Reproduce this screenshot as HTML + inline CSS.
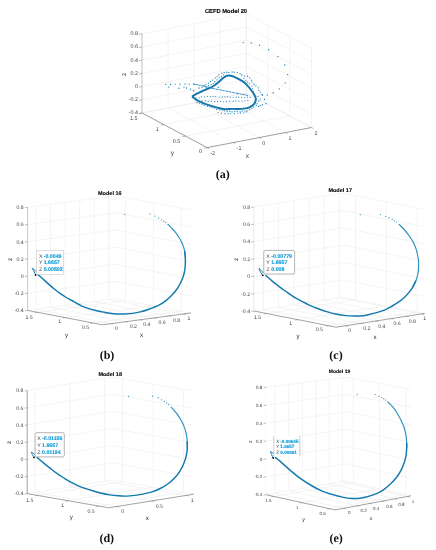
<!DOCTYPE html>
<html><head><meta charset="utf-8"><style>
html,body{margin:0;padding:0;background:#fff;}
svg{display:block;}
.g{stroke:#e9e9e9;stroke-width:0.5;}
.axb{stroke:#777;stroke-width:0.68;}
.axz{stroke:#9a9a9a;stroke-width:0.55;}
.axzc{stroke:#d8d8d8;stroke-width:0.6;}
.axzd{stroke:#777;stroke-width:0.7;}
.axze{stroke:#f0f0f0;stroke-width:0.5;}
.tk{stroke:#7a7a7a;stroke-width:0.5;}
text{font-family:"Liberation Sans",Arial,sans-serif;text-rendering:geometricPrecision;}
.tl{font-size:5.2px;fill:#444;}
.al{fill:#333;}
.tt{font-weight:bold;fill:#000;stroke:#000;stroke-width:0.1;}
.sl{font-family:"Liberation Serif","Times New Roman",serif;font-weight:bold;font-size:12px;fill:#111;}
.cv{fill:none;stroke:#1479ad;stroke-width:1.45;stroke-linecap:round;stroke-linejoin:round;}
.cvh{fill:none;stroke:#1479ad;stroke-width:1.0;stroke-linecap:round;stroke-linejoin:round;}
.cv2{fill:none;stroke:#2a90c0;stroke-width:1.15;stroke-linecap:round;stroke-linejoin:round;}
.dt{fill:#2f92c2;}
.dta{fill:#1e86bb;}
.cva{fill:none;stroke:#1675ad;stroke-width:1.95;stroke-linejoin:round;}
.mk{fill:#111;}
.dtb1{fill:#fff;fill-opacity:0.92;stroke:#bdbdbd;stroke-width:0.5;}
.dtb2{fill:#fff;fill-opacity:0.95;stroke:#9c9c9c;stroke-width:0.75;}
.dtb3{fill:#fff;fill-opacity:0.92;stroke:none;}
.dts{stroke:#a8a8a8;stroke-width:0.6;}
.dl{fill:#4a4a4a;}
.dv{fill:#0b9bd9;stroke:#0b9bd9;stroke-width:0.12;font-weight:bold;}
</style></head>
<body><svg width="436" height="550" viewBox="0 0 436 550">
<line x1="142" y1="113" x2="142" y2="33.8" class="g"/>
<line x1="207.2" y1="147.6" x2="142" y2="113" class="g"/>
<line x1="168.07" y1="107.97" x2="168.07" y2="28.77" class="g"/>
<line x1="233.27" y1="142.57" x2="168.07" y2="107.97" class="g"/>
<line x1="194.15" y1="102.95" x2="194.15" y2="23.75" class="g"/>
<line x1="259.35" y1="137.55" x2="194.15" y2="102.95" class="g"/>
<line x1="220.23" y1="97.93" x2="220.23" y2="18.73" class="g"/>
<line x1="285.43" y1="132.53" x2="220.23" y2="97.93" class="g"/>
<line x1="246.3" y1="92.9" x2="246.3" y2="13.7" class="g"/>
<line x1="311.5" y1="127.5" x2="246.3" y2="92.9" class="g"/>
<line x1="311.5" y1="127.5" x2="311.5" y2="48.3" class="g"/>
<line x1="207.2" y1="147.6" x2="311.5" y2="127.5" class="g"/>
<line x1="289.77" y1="115.97" x2="289.77" y2="36.77" class="g"/>
<line x1="185.47" y1="136.07" x2="289.77" y2="115.97" class="g"/>
<line x1="268.03" y1="104.43" x2="268.03" y2="25.23" class="g"/>
<line x1="163.73" y1="124.53" x2="268.03" y2="104.43" class="g"/>
<line x1="246.3" y1="92.9" x2="246.3" y2="13.7" class="g"/>
<line x1="142" y1="113" x2="246.3" y2="92.9" class="g"/>
<line x1="142" y1="113" x2="246.3" y2="92.9" class="g"/>
<line x1="246.3" y1="92.9" x2="311.5" y2="127.5" class="g"/>
<line x1="142" y1="99.8" x2="246.3" y2="79.7" class="g"/>
<line x1="246.3" y1="79.7" x2="311.5" y2="114.3" class="g"/>
<line x1="142" y1="86.6" x2="246.3" y2="66.5" class="g"/>
<line x1="246.3" y1="66.5" x2="311.5" y2="101.1" class="g"/>
<line x1="142" y1="73.4" x2="246.3" y2="53.3" class="g"/>
<line x1="246.3" y1="53.3" x2="311.5" y2="87.9" class="g"/>
<line x1="142" y1="60.2" x2="246.3" y2="40.1" class="g"/>
<line x1="246.3" y1="40.1" x2="311.5" y2="74.7" class="g"/>
<line x1="142" y1="47" x2="246.3" y2="26.9" class="g"/>
<line x1="246.3" y1="26.9" x2="311.5" y2="61.5" class="g"/>
<line x1="142" y1="33.8" x2="246.3" y2="13.7" class="g"/>
<line x1="246.3" y1="13.7" x2="311.5" y2="48.3" class="g"/>
<line x1="207.2" y1="147.6" x2="311.5" y2="127.5" class="axb"/>
<line x1="207.2" y1="147.6" x2="142" y2="113" class="axb"/>
<line x1="142" y1="113" x2="142" y2="33.8" class="axz"/>
<line x1="207.2" y1="147.6" x2="209.16" y2="148.64" class="tk"/>
<line x1="233.27" y1="142.57" x2="235.23" y2="143.61" class="tk"/>
<line x1="259.35" y1="137.55" x2="261.31" y2="138.59" class="tk"/>
<line x1="285.43" y1="132.53" x2="287.38" y2="133.56" class="tk"/>
<line x1="311.5" y1="127.5" x2="313.46" y2="128.54" class="tk"/>
<line x1="207.2" y1="147.6" x2="204.07" y2="148.2" class="tk"/>
<line x1="185.47" y1="136.07" x2="182.34" y2="136.67" class="tk"/>
<line x1="163.73" y1="124.53" x2="160.6" y2="125.14" class="tk"/>
<line x1="142" y1="113" x2="138.87" y2="113.6" class="tk"/>
<line x1="142" y1="113" x2="138.87" y2="113.6" class="tk"/>
<line x1="142" y1="99.8" x2="138.87" y2="100.4" class="tk"/>
<line x1="142" y1="86.6" x2="138.87" y2="87.2" class="tk"/>
<line x1="142" y1="73.4" x2="138.87" y2="74" class="tk"/>
<line x1="142" y1="60.2" x2="138.87" y2="60.8" class="tk"/>
<line x1="142" y1="47" x2="138.87" y2="47.6" class="tk"/>
<line x1="142" y1="33.8" x2="138.87" y2="34.4" class="tk"/>
<text x="212.7" y="155.24" class="tl" text-anchor="middle" style="font-size:5.4px">-2</text>
<text x="239" y="149.94" class="tl" text-anchor="middle" style="font-size:5.4px">-1</text>
<text x="263.8" y="144.74" class="tl" text-anchor="middle" style="font-size:5.4px">0</text>
<text x="290" y="139.54" class="tl" text-anchor="middle" style="font-size:5.4px">1</text>
<text x="316" y="134.64" class="tl" text-anchor="middle" style="font-size:5.4px">2</text>
<text x="133.8" y="120.44" class="tl" text-anchor="middle" style="font-size:5.4px">1.5</text>
<text x="157.2" y="131.14" class="tl" text-anchor="middle" style="font-size:5.4px">1</text>
<text x="176.5" y="142.54" class="tl" text-anchor="middle" style="font-size:5.4px">0.5</text>
<text x="200.4" y="153.14" class="tl" text-anchor="middle" style="font-size:5.4px">0</text>
<text x="137.9" y="114.46" class="tl" text-anchor="end" style="font-size:5.4px">-0.4</text>
<text x="137.9" y="101.26" class="tl" text-anchor="end" style="font-size:5.4px">-0.2</text>
<text x="137.9" y="88.06" class="tl" text-anchor="end" style="font-size:5.4px">0</text>
<text x="137.9" y="74.86" class="tl" text-anchor="end" style="font-size:5.4px">0.2</text>
<text x="137.9" y="61.66" class="tl" text-anchor="end" style="font-size:5.4px">0.4</text>
<text x="137.9" y="48.46" class="tl" text-anchor="end" style="font-size:5.4px">0.6</text>
<text x="137.9" y="35.26" class="tl" text-anchor="end" style="font-size:5.4px">0.8</text>
<text x="124.4" y="74.4" class="al" style="font-size:6.48px" text-anchor="middle" dominant-baseline="central" transform="rotate(-90 124.4 74.4)">z</text>
<text x="172.3" y="154.64" class="al" text-anchor="middle" style="font-size:6.48px">y</text>
<text x="247.3" y="157.64" class="al" text-anchor="middle" style="font-size:6.48px">x</text>
<text x="226" y="12.89" class="tt" style="font-size:5.8px" text-anchor="middle">CEFD Model 20</text>
<line x1="36.03" y1="309.27" x2="36.03" y2="206.27" class="g"/>
<line x1="110.93" y1="323.67" x2="36.03" y2="309.27" class="g"/>
<line x1="50.57" y1="307.33" x2="50.57" y2="204.33" class="g"/>
<line x1="125.47" y1="321.73" x2="50.57" y2="307.33" class="g"/>
<line x1="65.11" y1="305.39" x2="65.11" y2="202.39" class="g"/>
<line x1="140.01" y1="319.79" x2="65.11" y2="305.39" class="g"/>
<line x1="79.65" y1="303.45" x2="79.65" y2="200.45" class="g"/>
<line x1="154.55" y1="317.85" x2="79.65" y2="303.45" class="g"/>
<line x1="94.19" y1="301.51" x2="94.19" y2="198.51" class="g"/>
<line x1="169.09" y1="315.91" x2="94.19" y2="301.51" class="g"/>
<line x1="108.73" y1="299.57" x2="108.73" y2="196.57" class="g"/>
<line x1="183.63" y1="313.97" x2="108.73" y2="299.57" class="g"/>
<line x1="181.4" y1="311.17" x2="181.4" y2="208.17" class="g"/>
<line x1="93" y1="322.97" x2="181.4" y2="311.17" class="g"/>
<line x1="153.45" y1="305.8" x2="153.45" y2="202.8" class="g"/>
<line x1="65.05" y1="317.6" x2="153.45" y2="305.8" class="g"/>
<line x1="125.5" y1="300.43" x2="125.5" y2="197.43" class="g"/>
<line x1="37.1" y1="312.23" x2="125.5" y2="300.43" class="g"/>
<line x1="27.6" y1="310.4" x2="116" y2="298.6" class="g"/>
<line x1="116" y1="298.6" x2="190.9" y2="313" class="g"/>
<line x1="27.6" y1="293.23" x2="116" y2="281.43" class="g"/>
<line x1="116" y1="281.43" x2="190.9" y2="295.83" class="g"/>
<line x1="27.6" y1="276.07" x2="116" y2="264.27" class="g"/>
<line x1="116" y1="264.27" x2="190.9" y2="278.67" class="g"/>
<line x1="27.6" y1="258.9" x2="116" y2="247.1" class="g"/>
<line x1="116" y1="247.1" x2="190.9" y2="261.5" class="g"/>
<line x1="27.6" y1="241.73" x2="116" y2="229.93" class="g"/>
<line x1="116" y1="229.93" x2="190.9" y2="244.33" class="g"/>
<line x1="27.6" y1="224.57" x2="116" y2="212.77" class="g"/>
<line x1="116" y1="212.77" x2="190.9" y2="227.17" class="g"/>
<line x1="27.6" y1="207.4" x2="116" y2="195.6" class="g"/>
<line x1="116" y1="195.6" x2="190.9" y2="210" class="g"/>
<line x1="102.5" y1="324.8" x2="190.9" y2="313" class="axb"/>
<line x1="102.5" y1="324.8" x2="27.6" y2="310.4" class="axb"/>
<line x1="27.6" y1="310.4" x2="27.6" y2="207.4" class="axz"/>
<line x1="110.93" y1="323.67" x2="113.18" y2="324.11" class="tk"/>
<line x1="125.47" y1="321.73" x2="127.72" y2="322.17" class="tk"/>
<line x1="140.01" y1="319.79" x2="142.26" y2="320.22" class="tk"/>
<line x1="154.55" y1="317.85" x2="156.8" y2="318.28" class="tk"/>
<line x1="169.09" y1="315.91" x2="171.34" y2="316.34" class="tk"/>
<line x1="183.63" y1="313.97" x2="185.88" y2="314.4" class="tk"/>
<line x1="93" y1="322.97" x2="90.35" y2="323.33" class="tk"/>
<line x1="65.05" y1="317.6" x2="62.4" y2="317.95" class="tk"/>
<line x1="37.1" y1="312.23" x2="34.45" y2="312.58" class="tk"/>
<line x1="27.6" y1="310.4" x2="24.95" y2="310.75" class="tk"/>
<line x1="27.6" y1="293.23" x2="24.95" y2="293.59" class="tk"/>
<line x1="27.6" y1="276.07" x2="24.95" y2="276.42" class="tk"/>
<line x1="27.6" y1="258.9" x2="24.95" y2="259.25" class="tk"/>
<line x1="27.6" y1="241.73" x2="24.95" y2="242.09" class="tk"/>
<line x1="27.6" y1="224.57" x2="24.95" y2="224.92" class="tk"/>
<line x1="27.6" y1="207.4" x2="24.95" y2="207.75" class="tk"/>
<text x="116.5" y="329.87" class="tl" text-anchor="middle" style="font-size:5.2px">0</text>
<text x="133.3" y="327.97" class="tl" text-anchor="middle" style="font-size:5.2px">0.2</text>
<text x="146.9" y="325.87" class="tl" text-anchor="middle" style="font-size:5.2px">0.4</text>
<text x="162" y="323.87" class="tl" text-anchor="middle" style="font-size:5.2px">0.6</text>
<text x="176.5" y="322.07" class="tl" text-anchor="middle" style="font-size:5.2px">0.8</text>
<text x="188.9" y="320.17" class="tl" text-anchor="middle" style="font-size:5.2px">1</text>
<text x="29.1" y="318.87" class="tl" text-anchor="middle" style="font-size:5.2px">1.5</text>
<text x="59.6" y="323.47" class="tl" text-anchor="middle" style="font-size:5.2px">1</text>
<text x="85.5" y="328.97" class="tl" text-anchor="middle" style="font-size:5.2px">0.5</text>
<text x="23.6" y="312.27" class="tl" text-anchor="end" style="font-size:5.2px">-0.4</text>
<text x="23.6" y="295.11" class="tl" text-anchor="end" style="font-size:5.2px">-0.2</text>
<text x="23.6" y="277.94" class="tl" text-anchor="end" style="font-size:5.2px">0</text>
<text x="23.6" y="260.77" class="tl" text-anchor="end" style="font-size:5.2px">0.2</text>
<text x="23.6" y="243.61" class="tl" text-anchor="end" style="font-size:5.2px">0.4</text>
<text x="23.6" y="226.44" class="tl" text-anchor="end" style="font-size:5.2px">0.6</text>
<text x="23.6" y="209.27" class="tl" text-anchor="end" style="font-size:5.2px">0.8</text>
<text x="10.1" y="259.4" class="al" style="font-size:6.24px" text-anchor="middle" dominant-baseline="central" transform="rotate(-90 10.1 259.4)">z</text>
<text x="66.5" y="337.46" class="al" text-anchor="middle" style="font-size:6.24px">y</text>
<text x="141.6" y="337.16" class="al" text-anchor="middle" style="font-size:6.24px">x</text>
<text x="109.8" y="194.68" class="tt" style="font-size:5.5px" text-anchor="middle">Model 16</text>
<line x1="263.32" y1="309.53" x2="263.32" y2="205.43" class="g"/>
<line x1="345.52" y1="325.73" x2="263.32" y2="309.53" class="g"/>
<line x1="278.52" y1="307.17" x2="278.52" y2="203.07" class="g"/>
<line x1="360.72" y1="323.37" x2="278.52" y2="307.17" class="g"/>
<line x1="293.72" y1="304.8" x2="293.72" y2="200.7" class="g"/>
<line x1="375.92" y1="321" x2="293.72" y2="304.8" class="g"/>
<line x1="308.91" y1="302.43" x2="308.91" y2="198.33" class="g"/>
<line x1="391.11" y1="318.63" x2="308.91" y2="302.43" class="g"/>
<line x1="324.11" y1="300.06" x2="324.11" y2="195.96" class="g"/>
<line x1="406.31" y1="316.26" x2="324.11" y2="300.06" class="g"/>
<line x1="339.31" y1="297.7" x2="339.31" y2="193.6" class="g"/>
<line x1="421.51" y1="313.9" x2="339.31" y2="297.7" class="g"/>
<line x1="417.28" y1="311.94" x2="417.28" y2="207.84" class="g"/>
<line x1="328.68" y1="325.74" x2="417.28" y2="311.94" class="g"/>
<line x1="386.38" y1="305.85" x2="386.38" y2="201.75" class="g"/>
<line x1="297.78" y1="319.65" x2="386.38" y2="305.85" class="g"/>
<line x1="355.48" y1="299.76" x2="355.48" y2="195.66" class="g"/>
<line x1="266.88" y1="313.56" x2="355.48" y2="299.76" class="g"/>
<line x1="253.9" y1="311" x2="342.5" y2="297.2" class="g"/>
<line x1="342.5" y1="297.2" x2="424.7" y2="313.4" class="g"/>
<line x1="253.9" y1="293.65" x2="342.5" y2="279.85" class="g"/>
<line x1="342.5" y1="279.85" x2="424.7" y2="296.05" class="g"/>
<line x1="253.9" y1="276.3" x2="342.5" y2="262.5" class="g"/>
<line x1="342.5" y1="262.5" x2="424.7" y2="278.7" class="g"/>
<line x1="253.9" y1="258.95" x2="342.5" y2="245.15" class="g"/>
<line x1="342.5" y1="245.15" x2="424.7" y2="261.35" class="g"/>
<line x1="253.9" y1="241.6" x2="342.5" y2="227.8" class="g"/>
<line x1="342.5" y1="227.8" x2="424.7" y2="244" class="g"/>
<line x1="253.9" y1="224.25" x2="342.5" y2="210.45" class="g"/>
<line x1="342.5" y1="210.45" x2="424.7" y2="226.65" class="g"/>
<line x1="253.9" y1="206.9" x2="342.5" y2="193.1" class="g"/>
<line x1="342.5" y1="193.1" x2="424.7" y2="209.3" class="g"/>
<line x1="336.1" y1="327.2" x2="424.7" y2="313.4" class="axb"/>
<line x1="336.1" y1="327.2" x2="253.9" y2="311" class="axb"/>
<line x1="253.9" y1="311" x2="253.9" y2="206.9" class="axzc"/>
<line x1="345.52" y1="325.73" x2="347.99" y2="326.22" class="tk"/>
<line x1="360.72" y1="323.37" x2="363.19" y2="323.85" class="tk"/>
<line x1="375.92" y1="321" x2="378.38" y2="321.48" class="tk"/>
<line x1="391.11" y1="318.63" x2="393.58" y2="319.12" class="tk"/>
<line x1="406.31" y1="316.26" x2="408.78" y2="316.75" class="tk"/>
<line x1="421.51" y1="313.9" x2="423.97" y2="314.38" class="tk"/>
<line x1="328.68" y1="325.74" x2="326.03" y2="326.15" class="tk"/>
<line x1="297.78" y1="319.65" x2="295.12" y2="320.06" class="tk"/>
<line x1="266.88" y1="313.56" x2="264.22" y2="313.97" class="tk"/>
<line x1="253.9" y1="311" x2="251.24" y2="311.41" class="tk"/>
<line x1="253.9" y1="293.65" x2="251.24" y2="294.06" class="tk"/>
<line x1="253.9" y1="276.3" x2="251.24" y2="276.71" class="tk"/>
<line x1="253.9" y1="258.95" x2="251.24" y2="259.36" class="tk"/>
<line x1="253.9" y1="241.6" x2="251.24" y2="242.01" class="tk"/>
<line x1="253.9" y1="224.25" x2="251.24" y2="224.66" class="tk"/>
<line x1="253.9" y1="206.9" x2="251.24" y2="207.31" class="tk"/>
<text x="349.7" y="332.47" class="tl" text-anchor="middle" style="font-size:5.2px">0</text>
<text x="366.8" y="329.67" class="tl" text-anchor="middle" style="font-size:5.2px">0.2</text>
<text x="381.9" y="327.97" class="tl" text-anchor="middle" style="font-size:5.2px">0.4</text>
<text x="397.1" y="325.27" class="tl" text-anchor="middle" style="font-size:5.2px">0.6</text>
<text x="412.3" y="322.87" class="tl" text-anchor="middle" style="font-size:5.2px">0.8</text>
<text x="424.7" y="320.37" class="tl" text-anchor="middle" style="font-size:5.2px">1</text>
<text x="257.6" y="319.07" class="tl" text-anchor="middle" style="font-size:5.2px">1.5</text>
<text x="290.8" y="325.47" class="tl" text-anchor="middle" style="font-size:5.2px">1</text>
<text x="319.3" y="331.37" class="tl" text-anchor="middle" style="font-size:5.2px">0.5</text>
<text x="250.1" y="312.87" class="tl" text-anchor="end" style="font-size:5.2px">-0.4</text>
<text x="250.1" y="295.52" class="tl" text-anchor="end" style="font-size:5.2px">-0.2</text>
<text x="250.1" y="278.17" class="tl" text-anchor="end" style="font-size:5.2px">0</text>
<text x="250.1" y="260.82" class="tl" text-anchor="end" style="font-size:5.2px">0.2</text>
<text x="250.1" y="243.47" class="tl" text-anchor="end" style="font-size:5.2px">0.4</text>
<text x="250.1" y="226.12" class="tl" text-anchor="end" style="font-size:5.2px">0.6</text>
<text x="250.1" y="208.77" class="tl" text-anchor="end" style="font-size:5.2px">0.8</text>
<text x="236.4" y="259.4" class="al" style="font-size:6.24px" text-anchor="middle" dominant-baseline="central" transform="rotate(-90 236.4 259.4)">z</text>
<text x="298" y="338.26" class="al" text-anchor="middle" style="font-size:6.24px">y</text>
<text x="375.1" y="339.26" class="al" text-anchor="middle" style="font-size:6.24px">x</text>
<text x="340.2" y="191.88" class="tt" style="font-size:5.5px" text-anchor="middle">Model 17</text>
<line x1="35" y1="492.35" x2="35" y2="389.35" class="g"/>
<line x1="116.6" y1="506.55" x2="35" y2="492.35" class="g"/>
<line x1="69.8" y1="486.78" x2="69.8" y2="383.78" class="g"/>
<line x1="151.4" y1="500.98" x2="69.8" y2="486.78" class="g"/>
<line x1="104.61" y1="481.21" x2="104.61" y2="378.21" class="g"/>
<line x1="186.21" y1="495.41" x2="104.61" y2="481.21" class="g"/>
<line x1="183.45" y1="492.4" x2="183.45" y2="389.4" class="g"/>
<line x1="98.45" y1="506" x2="183.45" y2="492.4" class="g"/>
<line x1="153" y1="487.1" x2="153" y2="384.1" class="g"/>
<line x1="68" y1="500.7" x2="153" y2="487.1" class="g"/>
<line x1="122.55" y1="481.8" x2="122.55" y2="378.8" class="g"/>
<line x1="37.55" y1="495.4" x2="122.55" y2="481.8" class="g"/>
<line x1="27.2" y1="493.6" x2="112.2" y2="480" class="g"/>
<line x1="112.2" y1="480" x2="193.8" y2="494.2" class="g"/>
<line x1="27.2" y1="476.43" x2="112.2" y2="462.83" class="g"/>
<line x1="112.2" y1="462.83" x2="193.8" y2="477.03" class="g"/>
<line x1="27.2" y1="459.27" x2="112.2" y2="445.67" class="g"/>
<line x1="112.2" y1="445.67" x2="193.8" y2="459.87" class="g"/>
<line x1="27.2" y1="442.1" x2="112.2" y2="428.5" class="g"/>
<line x1="112.2" y1="428.5" x2="193.8" y2="442.7" class="g"/>
<line x1="27.2" y1="424.93" x2="112.2" y2="411.33" class="g"/>
<line x1="112.2" y1="411.33" x2="193.8" y2="425.53" class="g"/>
<line x1="27.2" y1="407.77" x2="112.2" y2="394.17" class="g"/>
<line x1="112.2" y1="394.17" x2="193.8" y2="408.37" class="g"/>
<line x1="27.2" y1="390.6" x2="112.2" y2="377" class="g"/>
<line x1="112.2" y1="377" x2="193.8" y2="391.2" class="g"/>
<line x1="108.8" y1="507.8" x2="193.8" y2="494.2" class="axb"/>
<line x1="108.8" y1="507.8" x2="27.2" y2="493.6" class="axb"/>
<line x1="27.2" y1="493.6" x2="27.2" y2="390.6" class="axzd"/>
<line x1="116.6" y1="506.55" x2="119.04" y2="506.98" class="tk"/>
<line x1="151.4" y1="500.98" x2="153.85" y2="501.41" class="tk"/>
<line x1="186.21" y1="495.41" x2="188.66" y2="495.84" class="tk"/>
<line x1="98.45" y1="506" x2="95.9" y2="506.41" class="tk"/>
<line x1="68" y1="500.7" x2="65.45" y2="501.11" class="tk"/>
<line x1="37.55" y1="495.4" x2="35" y2="495.81" class="tk"/>
<line x1="27.2" y1="493.6" x2="24.65" y2="494.01" class="tk"/>
<line x1="27.2" y1="476.43" x2="24.65" y2="476.84" class="tk"/>
<line x1="27.2" y1="459.27" x2="24.65" y2="459.67" class="tk"/>
<line x1="27.2" y1="442.1" x2="24.65" y2="442.51" class="tk"/>
<line x1="27.2" y1="424.93" x2="24.65" y2="425.34" class="tk"/>
<line x1="27.2" y1="407.77" x2="24.65" y2="408.17" class="tk"/>
<line x1="27.2" y1="390.6" x2="24.65" y2="391.01" class="tk"/>
<text x="122.6" y="513.27" class="tl" text-anchor="middle" style="font-size:5.2px">0</text>
<text x="159.3" y="507.97" class="tl" text-anchor="middle" style="font-size:5.2px">0.5</text>
<text x="192.2" y="502.07" class="tl" text-anchor="middle" style="font-size:5.2px">1</text>
<text x="29.8" y="501.77" class="tl" text-anchor="middle" style="font-size:5.2px">1.5</text>
<text x="62.6" y="506.87" class="tl" text-anchor="middle" style="font-size:5.2px">1</text>
<text x="91" y="512.97" class="tl" text-anchor="middle" style="font-size:5.2px">0.5</text>
<text x="23.4" y="495.47" class="tl" text-anchor="end" style="font-size:5.2px">-0.4</text>
<text x="23.4" y="478.31" class="tl" text-anchor="end" style="font-size:5.2px">-0.2</text>
<text x="23.4" y="461.14" class="tl" text-anchor="end" style="font-size:5.2px">0</text>
<text x="23.4" y="443.97" class="tl" text-anchor="end" style="font-size:5.2px">0.2</text>
<text x="23.4" y="426.81" class="tl" text-anchor="end" style="font-size:5.2px">0.4</text>
<text x="23.4" y="409.64" class="tl" text-anchor="end" style="font-size:5.2px">0.6</text>
<text x="23.4" y="392.47" class="tl" text-anchor="end" style="font-size:5.2px">0.8</text>
<text x="9.2" y="442.5" class="al" style="font-size:6.24px" text-anchor="middle" dominant-baseline="central" transform="rotate(-90 9.2 442.5)">z</text>
<text x="71.4" y="518.86" class="al" text-anchor="middle" style="font-size:6.24px">y</text>
<text x="147.4" y="520.06" class="al" text-anchor="middle" style="font-size:6.24px">x</text>
<text x="110.2" y="375.68" class="tt" style="font-size:5.5px" text-anchor="middle">Model 18</text>
<line x1="275.04" y1="493.15" x2="274.96" y2="386.26" class="g"/>
<line x1="343.67" y1="508.31" x2="275.04" y2="493.15" class="g"/>
<line x1="288.88" y1="490.78" x2="288.73" y2="384.5" class="g"/>
<line x1="356.79" y1="505.87" x2="288.88" y2="490.78" class="g"/>
<line x1="302.52" y1="488.45" x2="302.34" y2="382.77" class="g"/>
<line x1="369.74" y1="503.47" x2="302.52" y2="488.45" class="g"/>
<line x1="315.97" y1="486.14" x2="315.8" y2="381.05" class="g"/>
<line x1="382.5" y1="501.09" x2="315.97" y2="486.14" class="g"/>
<line x1="329.23" y1="483.87" x2="329.11" y2="379.35" class="g"/>
<line x1="395.08" y1="498.76" x2="329.23" y2="483.87" class="g"/>
<line x1="342.31" y1="481.63" x2="342.27" y2="377.67" class="g"/>
<line x1="407.49" y1="496.45" x2="342.31" y2="481.63" class="g"/>
<line x1="405.84" y1="494.62" x2="405.91" y2="388.49" class="g"/>
<line x1="329.61" y1="508.69" x2="405.84" y2="494.62" class="g"/>
<line x1="379.81" y1="488.7" x2="379.3" y2="383.47" class="g"/>
<line x1="301.96" y1="502.61" x2="379.81" y2="488.7" class="g"/>
<line x1="353.44" y1="482.7" x2="353.21" y2="378.56" class="g"/>
<line x1="273.92" y1="496.44" x2="353.44" y2="482.7" class="g"/>
<line x1="266" y1="494.7" x2="346" y2="481" class="g"/>
<line x1="346" y1="481" x2="411" y2="495.8" class="g"/>
<line x1="266" y1="476.82" x2="346" y2="463.7" class="g"/>
<line x1="346" y1="463.7" x2="411.05" y2="478.15" class="g"/>
<line x1="266" y1="458.93" x2="346" y2="446.4" class="g"/>
<line x1="346" y1="446.4" x2="411.1" y2="460.48" class="g"/>
<line x1="266" y1="441.05" x2="346" y2="429.1" class="g"/>
<line x1="346" y1="429.1" x2="411.15" y2="442.77" class="g"/>
<line x1="266" y1="423.17" x2="346" y2="411.8" class="g"/>
<line x1="346" y1="411.8" x2="411.2" y2="425.04" class="g"/>
<line x1="266" y1="405.28" x2="346" y2="394.5" class="g"/>
<line x1="346" y1="394.5" x2="411.25" y2="407.28" class="g"/>
<line x1="266" y1="387.4" x2="346" y2="377.2" class="g"/>
<line x1="346" y1="377.2" x2="411.3" y2="389.5" class="g"/>
<line x1="335.1" y1="509.9" x2="411" y2="495.8" class="axb"/>
<line x1="335.1" y1="509.9" x2="266" y2="494.7" class="axb"/>
<line x1="266" y1="494.7" x2="266" y2="387.4" class="axze"/>
<line x1="343.67" y1="508.31" x2="345.69" y2="508.76" class="tk"/>
<line x1="356.79" y1="505.87" x2="358.8" y2="506.31" class="tk"/>
<line x1="369.74" y1="503.47" x2="371.72" y2="503.91" class="tk"/>
<line x1="382.5" y1="501.09" x2="384.46" y2="501.54" class="tk"/>
<line x1="395.08" y1="498.76" x2="397.03" y2="499.2" class="tk"/>
<line x1="407.49" y1="496.45" x2="409.42" y2="496.89" class="tk"/>
<line x1="329.61" y1="508.69" x2="327.23" y2="509.13" class="tk"/>
<line x1="301.96" y1="502.61" x2="299.52" y2="503.04" class="tk"/>
<line x1="273.92" y1="496.44" x2="271.43" y2="496.87" class="tk"/>
<line x1="266" y1="494.7" x2="263.49" y2="495.13" class="tk"/>
<line x1="266" y1="476.82" x2="263.52" y2="477.22" class="tk"/>
<line x1="266" y1="458.93" x2="263.52" y2="459.32" class="tk"/>
<line x1="266" y1="441.05" x2="263.52" y2="441.42" class="tk"/>
<line x1="266" y1="423.17" x2="263.52" y2="423.52" class="tk"/>
<line x1="266" y1="405.28" x2="263.52" y2="405.62" class="tk"/>
<line x1="266" y1="387.4" x2="263.52" y2="387.72" class="tk"/>
<text x="349.3" y="514.22" class="tl" text-anchor="middle" style="font-size:4.5px">0</text>
<text x="363.6" y="512.42" class="tl" text-anchor="middle" style="font-size:4.5px">0.2</text>
<text x="376.2" y="510.12" class="tl" text-anchor="middle" style="font-size:4.5px">0.4</text>
<text x="389.3" y="507.62" class="tl" text-anchor="middle" style="font-size:4.5px">0.6</text>
<text x="401.4" y="505.52" class="tl" text-anchor="middle" style="font-size:4.5px">0.8</text>
<text x="412.9" y="502.62" class="tl" text-anchor="middle" style="font-size:4.5px">1</text>
<text x="268.3" y="502.22" class="tl" text-anchor="middle" style="font-size:4.5px">1.5</text>
<text x="297.2" y="508.52" class="tl" text-anchor="middle" style="font-size:4.5px">1</text>
<text x="322.6" y="514.72" class="tl" text-anchor="middle" style="font-size:4.5px">0.5</text>
<text x="262.2" y="496.32" class="tl" text-anchor="end" style="font-size:4.5px">-0.4</text>
<text x="262.2" y="478.44" class="tl" text-anchor="end" style="font-size:4.5px">-0.2</text>
<text x="262.2" y="460.55" class="tl" text-anchor="end" style="font-size:4.5px">0</text>
<text x="262.2" y="442.67" class="tl" text-anchor="end" style="font-size:4.5px">0.2</text>
<text x="262.2" y="424.79" class="tl" text-anchor="end" style="font-size:4.5px">0.4</text>
<text x="262.2" y="406.9" class="tl" text-anchor="end" style="font-size:4.5px">0.6</text>
<text x="262.2" y="389.02" class="tl" text-anchor="end" style="font-size:4.5px">0.8</text>
<text x="251" y="441.7" class="al" style="font-size:5.4px" text-anchor="middle" dominant-baseline="central" transform="rotate(-90 251 441.7)">z</text>
<text x="303.7" y="520.78" class="al" text-anchor="middle" style="font-size:5.4px">y</text>
<text x="370.9" y="520.38" class="al" text-anchor="middle" style="font-size:5.4px">x</text>
<text x="339.5" y="373.1" class="tt" style="font-size:5.0px" text-anchor="middle">Model 19</text>
<path d="M185.3,257.5 C185.2,256.48 185,253.17 184.7,251.4 C184.4,249.63 184,248.42 183.5,246.9 C183,245.38 182.47,243.92 181.7,242.3 C180.93,240.68 179.9,238.82 178.9,237.2 C177.9,235.58 176.85,234.05 175.7,232.6 C174.55,231.15 173.3,229.87 172,228.5 C170.7,227.13 168.58,225.08 167.9,224.4" class="cv2"/>
<path d="M37.6,274.2 C38,274.53 38.9,275.22 40,276.2 C41.1,277.18 42.58,278.62 44.2,280.1 C45.82,281.58 47.87,283.5 49.7,285.1 C51.53,286.7 53.37,288.23 55.2,289.7 C57.03,291.17 58.87,292.6 60.7,293.9 C62.53,295.2 64.37,296.4 66.2,297.5 C68.03,298.6 69.9,299.5 71.7,300.5 C73.5,301.5 75.4,302.62 77,303.5 C78.6,304.38 79.43,304.98 81.3,305.8 C83.17,306.62 85.92,307.65 88.2,308.4 C90.48,309.15 92.6,309.72 95,310.3 C97.4,310.88 100.08,311.4 102.6,311.9 C105.12,312.4 107.58,312.95 110.1,313.3 C112.62,313.65 115.17,313.88 117.7,314 C120.23,314.12 122.78,314.1 125.3,314 C127.82,313.9 130.28,313.75 132.8,313.4 C135.32,313.05 137.87,312.55 140.4,311.9 C142.93,311.25 145,310.58 148,309.5 C151,308.42 155.47,306.85 158.4,305.4 C161.33,303.95 163.37,302.5 165.6,300.8 C167.83,299.1 169.9,297.17 171.8,295.2 C173.7,293.23 175.53,291.07 177,289 C178.47,286.93 179.57,284.87 180.6,282.8 C181.63,280.73 182.52,278.67 183.2,276.6 C183.88,274.53 184.35,272.47 184.7,270.4 C185.05,268.33 185.2,266.35 185.3,264.2 C185.4,262.05 185.4,259.63 185.3,257.5 C185.2,255.37 184.8,252.42 184.7,251.4" class="cv"/>
<path d="M35.8,275.1 C35.5,274.5 34.62,272.63 34,271.5 C33.38,270.37 32.07,268.62 32.1,268.3 C32.13,267.98 33.52,269.05 34.2,269.6 C34.88,270.15 35.87,271.27 36.2,271.6" class="cvh"/>
<circle cx="165.8" cy="222.6" r="0.6" class="dt"/>
<circle cx="163.8" cy="221.2" r="0.6" class="dt"/>
<circle cx="161.5" cy="219.8" r="0.6" class="dt"/>
<circle cx="158.7" cy="218.2" r="0.6" class="dt"/>
<circle cx="155" cy="216.1" r="0.6" class="dt"/>
<circle cx="150" cy="213.9" r="0.6" class="dt"/>
<circle cx="124.9" cy="214.3" r="0.6" class="dt"/>
<circle cx="35.6" cy="275" r="0.9" class="mk"/>
<path d="M412.6,287.3 C413.12,286.28 414.9,283.05 415.7,281.2 C416.5,279.35 416.97,277.83 417.4,276.2 C417.83,274.57 418.1,272.97 418.3,271.4 C418.5,269.83 418.57,268.57 418.6,266.8 C418.63,265.03 418.63,262.6 418.5,260.8 C418.37,259 418.12,257.68 417.8,256 C417.48,254.32 417.13,252.53 416.6,250.7 C416.07,248.87 415.45,246.9 414.6,245 C413.75,243.1 412.62,241.1 411.5,239.3 C410.38,237.5 409.2,235.92 407.9,234.2 C406.6,232.48 405.17,230.63 403.7,229 C402.23,227.37 399.87,225.17 399.1,224.4" class="cv2"/>
<path d="M265.9,275.6 C266.95,276.52 270.2,279.43 272.2,281.1 C274.2,282.77 275.98,284.12 277.9,285.6 C279.82,287.08 281.78,288.62 283.7,290 C285.62,291.38 287.5,292.62 289.4,293.9 C291.3,295.18 293.18,296.55 295.1,297.7 C297.02,298.85 298.55,299.57 300.9,300.8 C303.25,302.03 306.3,303.77 309.2,305.1 C312.1,306.43 315.25,307.67 318.3,308.8 C321.35,309.93 324.43,310.98 327.5,311.9 C330.57,312.82 333.63,313.68 336.7,314.3 C339.77,314.92 342.85,315.32 345.9,315.6 C348.95,315.88 352.15,315.98 355,316 C357.85,316.02 360.78,315.92 363,315.7 C365.22,315.48 365.88,315.25 368.3,314.7 C370.72,314.15 374.72,313.22 377.5,312.4 C380.28,311.58 382.92,310.65 385,309.8 C387.08,308.95 388.35,308.2 390,307.3 C391.65,306.4 393.25,305.43 394.9,304.4 C396.55,303.37 398.25,302.33 399.9,301.1 C401.55,299.87 403.28,298.45 404.8,297 C406.32,295.55 407.7,294.02 409,292.4 C410.3,290.78 411.48,289.17 412.6,287.3 C413.72,285.43 415.18,282.22 415.7,281.2" class="cv"/>
<path d="M262.8,275.3 C262.43,274.78 261.23,273.35 260.6,272.2 C259.97,271.05 258.9,268.7 259,268.4 C259.1,268.1 260.5,269.67 261.2,270.4 C261.9,271.13 262.87,272.4 263.2,272.8" class="cvh"/>
<circle cx="396.5" cy="222" r="0.6" class="dt"/>
<circle cx="394.4" cy="220.8" r="0.6" class="dt"/>
<circle cx="392.2" cy="219.2" r="0.6" class="dt"/>
<circle cx="389.1" cy="217.7" r="0.6" class="dt"/>
<circle cx="385.7" cy="216.3" r="0.6" class="dt"/>
<circle cx="380.5" cy="214.6" r="0.6" class="dt"/>
<circle cx="360.3" cy="214.7" r="0.6" class="dt"/>
<circle cx="262.8" cy="275.3" r="0.9" class="mk"/>
<path d="M187.3,447.6 C187.28,446.67 187.27,443.6 187.2,442 C187.13,440.4 187.12,439.62 186.9,438 C186.68,436.38 186.37,434.2 185.9,432.3 C185.43,430.4 184.83,428.48 184.1,426.6 C183.37,424.72 182.45,422.8 181.5,421 C180.55,419.2 179.52,417.43 178.4,415.8 C177.28,414.17 176,412.67 174.8,411.2 C173.6,409.73 171.8,407.7 171.2,407" class="cv2"/>
<path d="M37,457.4 C38.13,458.35 41.53,461.23 43.8,463.1 C46.07,464.97 48.32,466.8 50.6,468.6 C52.88,470.4 55.2,472.28 57.5,473.9 C59.8,475.52 62.1,476.88 64.4,478.3 C66.7,479.72 69,481.15 71.3,482.4 C73.6,483.65 75.92,484.8 78.2,485.8 C80.48,486.8 82.48,487.53 85,488.4 C87.52,489.27 90.55,490.18 93.3,491 C96.05,491.82 98.75,492.65 101.5,493.3 C104.25,493.95 107.05,494.48 109.8,494.9 C112.55,495.32 115.25,495.6 118,495.8 C120.75,496 123.55,496.17 126.3,496.1 C129.05,496.03 131.78,495.73 134.5,495.4 C137.22,495.07 139.8,494.65 142.6,494.1 C145.4,493.55 148.37,493.03 151.3,492.1 C154.23,491.17 157.35,489.93 160.2,488.5 C163.05,487.07 165.88,485.38 168.4,483.5 C170.92,481.62 173.3,479.4 175.3,477.2 C177.3,475 178.93,472.72 180.4,470.3 C181.87,467.88 183.1,465.23 184.1,462.7 C185.1,460.17 185.87,457.62 186.4,455.1 C186.93,452.58 187.17,449.78 187.3,447.6 C187.43,445.42 187.22,442.93 187.2,442" class="cv"/>
<path d="M34.1,457.4 C33.82,456.93 32.85,455.48 32.4,454.6 C31.95,453.72 31.27,452.33 31.4,452.1 C31.53,451.87 32.55,452.68 33.2,453.2 C33.85,453.72 34.95,454.87 35.3,455.2" class="cvh"/>
<circle cx="168.8" cy="404.4" r="0.6" class="dt"/>
<circle cx="166.7" cy="402.9" r="0.6" class="dt"/>
<circle cx="164.4" cy="401.4" r="0.6" class="dt"/>
<circle cx="161.6" cy="399.8" r="0.6" class="dt"/>
<circle cx="158.3" cy="397.7" r="0.6" class="dt"/>
<circle cx="152.6" cy="396.2" r="0.6" class="dt"/>
<circle cx="128.6" cy="396.4" r="0.6" class="dt"/>
<circle cx="34.1" cy="457.4" r="0.9" class="mk"/>
<path d="M406.7,447.6 C406.7,446.92 406.8,445.45 406.7,443.5 C406.6,441.55 406.52,438.53 406.1,435.9 C405.68,433.27 405.05,430.32 404.2,427.7 C403.35,425.08 402.17,422.62 401,420.2 C399.83,417.78 398.57,415.42 397.2,413.2 C395.83,410.98 394.37,408.78 392.8,406.9 C391.23,405.02 388.63,402.73 387.8,401.9" class="cv2"/>
<path d="M275.4,457.6 C276.22,458.23 277.77,459.23 280.3,461.4 C282.83,463.57 287.15,467.68 290.6,470.6 C294.05,473.52 297.55,476.42 301,478.9 C304.45,481.38 307.87,483.5 311.3,485.5 C314.73,487.5 318.17,489.42 321.6,490.9 C325.03,492.38 328.45,493.37 331.9,494.4 C335.35,495.43 338.85,496.42 342.3,497.1 C345.75,497.78 349.65,498.3 352.6,498.5 C355.55,498.7 357.72,498.55 360,498.3 C362.28,498.05 363.77,497.68 366.3,497 C368.83,496.32 372.35,495.4 375.2,494.2 C378.05,493 380.78,491.58 383.4,489.8 C386.02,488.02 388.7,485.6 390.9,483.5 C393.1,481.4 394.92,479.4 396.6,477.2 C398.28,475 399.73,472.72 401,470.3 C402.27,467.88 403.35,465.23 404.2,462.7 C405.05,460.17 405.68,457.62 406.1,455.1 C406.52,452.58 406.6,449.53 406.7,447.6 C406.8,445.67 406.7,444.18 406.7,443.5" class="cv"/>
<path d="M273.2,458 C272.93,457.43 272.03,455.67 271.6,454.6 C271.17,453.53 270.43,451.9 270.6,451.6 C270.77,451.3 271.93,452.3 272.6,452.8 C273.27,453.3 274.27,454.3 274.6,454.6" class="cvh"/>
<circle cx="385.5" cy="400" r="0.6" class="dt"/>
<circle cx="383.8" cy="398.7" r="0.6" class="dt"/>
<circle cx="381.7" cy="397.5" r="0.6" class="dt"/>
<circle cx="379" cy="396.2" r="0.6" class="dt"/>
<circle cx="375.2" cy="394.6" r="0.6" class="dt"/>
<circle cx="357.3" cy="394.3" r="0.6" class="dt"/>
<circle cx="273.2" cy="458" r="0.9" class="mk"/>
<path d="M192,96.6 C192.75,96.15 194.92,94.75 196.5,93.9 C198.08,93.05 199.58,92.37 201.5,91.5 C203.42,90.63 206,89.62 208,88.7 C210,87.78 211.67,87.15 213.5,86 C215.33,84.85 217.53,83 219,81.8 C220.47,80.6 221.2,79.72 222.3,78.8 C223.4,77.88 224.5,76.85 225.6,76.3 C226.7,75.75 227.83,75.55 228.9,75.5 C229.97,75.45 230.83,75.65 232,76 C233.17,76.35 234.33,76.83 235.9,77.6 C237.47,78.37 239.8,79.62 241.4,80.6 C243,81.58 244.15,82.27 245.5,83.5 C246.85,84.73 248.15,86.3 249.5,88 C250.85,89.7 252.55,91.97 253.6,93.7 C254.65,95.43 255.67,96.75 255.8,98.4 C255.93,100.05 255.57,102.07 254.4,103.6 C253.23,105.13 250.95,106.72 248.8,107.6 C246.65,108.48 244.25,108.68 241.5,108.9 C238.75,109.12 235.05,108.85 232.3,108.9 C229.55,108.95 227.53,109.42 225,109.2 C222.47,108.98 219.95,108.32 217.1,107.6 C214.25,106.88 210.95,105.97 207.9,104.9 C204.85,103.83 201.45,102.58 198.8,101.2 C196.15,99.82 193.13,97.37 192,96.6" class="cva"/>
<circle cx="165.7" cy="84.4" r="0.65" class="dta"/>
<circle cx="170.56" cy="84.49" r="0.65" class="dta"/>
<circle cx="175.16" cy="84.12" r="0.65" class="dta"/>
<circle cx="180.01" cy="84.14" r="0.65" class="dta"/>
<circle cx="185.09" cy="84.02" r="0.65" class="dta"/>
<circle cx="189.22" cy="84.13" r="0.65" class="dta"/>
<circle cx="193.8" cy="84.02" r="0.65" class="dta"/>
<circle cx="194" cy="84.2" r="0.6" class="dta"/>
<circle cx="195.13" cy="84.52" r="0.6" class="dta"/>
<circle cx="196.53" cy="84.62" r="0.6" class="dta"/>
<circle cx="197.91" cy="84.94" r="0.6" class="dta"/>
<circle cx="199.49" cy="85.33" r="0.6" class="dta"/>
<circle cx="200.93" cy="85.47" r="0.6" class="dta"/>
<circle cx="202.61" cy="85.88" r="0.6" class="dta"/>
<circle cx="203.97" cy="86.09" r="0.6" class="dta"/>
<circle cx="205.23" cy="86.58" r="0.6" class="dta"/>
<circle cx="206.49" cy="86.97" r="0.6" class="dta"/>
<circle cx="208" cy="87.09" r="0.6" class="dta"/>
<circle cx="209.2" cy="87.57" r="0.6" class="dta"/>
<circle cx="210.94" cy="87.89" r="0.6" class="dta"/>
<circle cx="212.43" cy="88.28" r="0.6" class="dta"/>
<circle cx="213.59" cy="88.49" r="0.6" class="dta"/>
<circle cx="214.97" cy="88.83" r="0.6" class="dta"/>
<circle cx="216.26" cy="89.04" r="0.6" class="dta"/>
<circle cx="217.65" cy="89.37" r="0.6" class="dta"/>
<circle cx="219.09" cy="89.55" r="0.6" class="dta"/>
<circle cx="220.66" cy="89.97" r="0.6" class="dta"/>
<circle cx="222.07" cy="90.17" r="0.6" class="dta"/>
<circle cx="223.6" cy="90.62" r="0.6" class="dta"/>
<circle cx="224.81" cy="90.78" r="0.6" class="dta"/>
<circle cx="226.35" cy="91.15" r="0.6" class="dta"/>
<circle cx="227.8" cy="91.37" r="0.6" class="dta"/>
<circle cx="229.22" cy="91.72" r="0.6" class="dta"/>
<circle cx="230.55" cy="92" r="0.6" class="dta"/>
<circle cx="232.15" cy="92.37" r="0.6" class="dta"/>
<circle cx="233.51" cy="92.6" r="0.6" class="dta"/>
<circle cx="234.82" cy="92.81" r="0.6" class="dta"/>
<circle cx="236.38" cy="93.13" r="0.6" class="dta"/>
<circle cx="237.55" cy="93.43" r="0.6" class="dta"/>
<circle cx="238.91" cy="93.71" r="0.6" class="dta"/>
<circle cx="240.51" cy="93.99" r="0.6" class="dta"/>
<circle cx="242.09" cy="94.37" r="0.6" class="dta"/>
<circle cx="243.54" cy="94.56" r="0.6" class="dta"/>
<circle cx="244.85" cy="94.71" r="0.6" class="dta"/>
<circle cx="246.26" cy="95.15" r="0.6" class="dta"/>
<circle cx="247.67" cy="95.34" r="0.6" class="dta"/>
<circle cx="196" cy="98" r="0.6" class="dta"/>
<circle cx="199.27" cy="97.74" r="0.6" class="dta"/>
<circle cx="201.3" cy="96.79" r="0.6" class="dta"/>
<circle cx="204.76" cy="96.78" r="0.6" class="dta"/>
<circle cx="207.45" cy="96.37" r="0.6" class="dta"/>
<circle cx="210.4" cy="96.59" r="0.6" class="dta"/>
<circle cx="213.05" cy="96.4" r="0.6" class="dta"/>
<circle cx="215.72" cy="96.61" r="0.6" class="dta"/>
<circle cx="219.01" cy="97.08" r="0.6" class="dta"/>
<circle cx="222.32" cy="96.92" r="0.6" class="dta"/>
<circle cx="224.97" cy="96.86" r="0.6" class="dta"/>
<circle cx="227.43" cy="96.8" r="0.6" class="dta"/>
<circle cx="230.29" cy="97.05" r="0.6" class="dta"/>
<circle cx="233.15" cy="97.48" r="0.6" class="dta"/>
<circle cx="236.22" cy="97.38" r="0.6" class="dta"/>
<circle cx="238.79" cy="97.16" r="0.6" class="dta"/>
<circle cx="241.53" cy="97.28" r="0.6" class="dta"/>
<circle cx="244.58" cy="97.74" r="0.6" class="dta"/>
<circle cx="247.43" cy="97.13" r="0.6" class="dta"/>
<circle cx="250.24" cy="97.38" r="0.6" class="dta"/>
<circle cx="196" cy="100.5" r="0.6" class="dta"/>
<circle cx="198.98" cy="100.73" r="0.6" class="dta"/>
<circle cx="201.98" cy="100.95" r="0.6" class="dta"/>
<circle cx="205.36" cy="100.82" r="0.6" class="dta"/>
<circle cx="208.2" cy="101.44" r="0.6" class="dta"/>
<circle cx="211.32" cy="101.19" r="0.6" class="dta"/>
<circle cx="214.72" cy="101.41" r="0.6" class="dta"/>
<circle cx="217.64" cy="101.47" r="0.6" class="dta"/>
<circle cx="220.55" cy="101.3" r="0.6" class="dta"/>
<circle cx="223.58" cy="101.73" r="0.6" class="dta"/>
<circle cx="226.54" cy="101.63" r="0.6" class="dta"/>
<circle cx="229.76" cy="101.16" r="0.6" class="dta"/>
<circle cx="232.97" cy="101.38" r="0.6" class="dta"/>
<circle cx="235.75" cy="100.93" r="0.6" class="dta"/>
<circle cx="238.92" cy="101.06" r="0.6" class="dta"/>
<circle cx="242" cy="101.09" r="0.6" class="dta"/>
<circle cx="244.97" cy="100.84" r="0.6" class="dta"/>
<circle cx="247.83" cy="100.42" r="0.6" class="dta"/>
<circle cx="197" cy="102.5" r="0.65" class="dta"/>
<circle cx="199.35" cy="103.21" r="0.65" class="dta"/>
<circle cx="201.86" cy="104.18" r="0.65" class="dta"/>
<circle cx="204.06" cy="105.26" r="0.65" class="dta"/>
<circle cx="207.3" cy="106.42" r="0.65" class="dta"/>
<circle cx="209.91" cy="106.82" r="0.65" class="dta"/>
<circle cx="212.08" cy="107.55" r="0.65" class="dta"/>
<circle cx="214.18" cy="108.09" r="0.65" class="dta"/>
<circle cx="216.7" cy="109.42" r="0.65" class="dta"/>
<circle cx="219.72" cy="109.97" r="0.65" class="dta"/>
<circle cx="222.24" cy="110.05" r="0.65" class="dta"/>
<circle cx="224.35" cy="110.88" r="0.65" class="dta"/>
<circle cx="227.19" cy="111.48" r="0.65" class="dta"/>
<circle cx="229.8" cy="111.2" r="0.65" class="dta"/>
<circle cx="232.08" cy="111.89" r="0.65" class="dta"/>
<circle cx="234.53" cy="111.56" r="0.65" class="dta"/>
<circle cx="237.12" cy="111.42" r="0.65" class="dta"/>
<circle cx="240.07" cy="111.85" r="0.65" class="dta"/>
<circle cx="242.16" cy="111.15" r="0.65" class="dta"/>
<circle cx="244.94" cy="111.04" r="0.65" class="dta"/>
<circle cx="247.39" cy="110.82" r="0.65" class="dta"/>
<circle cx="249.68" cy="109.67" r="0.65" class="dta"/>
<circle cx="252" cy="108.57" r="0.65" class="dta"/>
<circle cx="253.79" cy="107.06" r="0.65" class="dta"/>
<circle cx="256.25" cy="105.13" r="0.65" class="dta"/>
<circle cx="257.21" cy="103.62" r="0.65" class="dta"/>
<circle cx="258.86" cy="101.27" r="0.65" class="dta"/>
<circle cx="260.26" cy="99.06" r="0.65" class="dta"/>
<circle cx="218" cy="112.6" r="0.6" class="dta"/>
<circle cx="221.4" cy="113.18" r="0.6" class="dta"/>
<circle cx="224.98" cy="113.72" r="0.6" class="dta"/>
<circle cx="228.24" cy="113.92" r="0.6" class="dta"/>
<circle cx="230.56" cy="113.54" r="0.6" class="dta"/>
<circle cx="234.52" cy="113.72" r="0.6" class="dta"/>
<circle cx="237.92" cy="113.04" r="0.6" class="dta"/>
<circle cx="240.5" cy="112.9" r="0.6" class="dta"/>
<circle cx="243.66" cy="112.79" r="0.6" class="dta"/>
<circle cx="246.27" cy="111.95" r="0.6" class="dta"/>
<circle cx="199" cy="88" r="0.65" class="dta"/>
<circle cx="201.94" cy="87.36" r="0.65" class="dta"/>
<circle cx="204.01" cy="85.73" r="0.65" class="dta"/>
<circle cx="205.8" cy="84.66" r="0.65" class="dta"/>
<circle cx="208.48" cy="83.12" r="0.65" class="dta"/>
<circle cx="210.55" cy="81.52" r="0.65" class="dta"/>
<circle cx="212.72" cy="80.08" r="0.65" class="dta"/>
<circle cx="215.19" cy="77.94" r="0.65" class="dta"/>
<circle cx="217.09" cy="76.56" r="0.65" class="dta"/>
<circle cx="218.9" cy="74.88" r="0.65" class="dta"/>
<circle cx="221.74" cy="73.17" r="0.65" class="dta"/>
<circle cx="224.19" cy="72.52" r="0.65" class="dta"/>
<circle cx="226.85" cy="72.23" r="0.65" class="dta"/>
<circle cx="228.78" cy="72.42" r="0.65" class="dta"/>
<circle cx="232.11" cy="71.98" r="0.65" class="dta"/>
<circle cx="234.16" cy="72.15" r="0.65" class="dta"/>
<circle cx="237.3" cy="72.66" r="0.65" class="dta"/>
<circle cx="240.07" cy="73.74" r="0.65" class="dta"/>
<circle cx="241.85" cy="75" r="0.65" class="dta"/>
<circle cx="244.49" cy="76.12" r="0.65" class="dta"/>
<circle cx="247.58" cy="76.23" r="0.65" class="dta"/>
<circle cx="249.69" cy="77.9" r="0.65" class="dta"/>
<circle cx="251.56" cy="80.19" r="0.65" class="dta"/>
<circle cx="251.91" cy="82.07" r="0.65" class="dta"/>
<circle cx="254.03" cy="84.23" r="0.65" class="dta"/>
<circle cx="255.94" cy="85.8" r="0.65" class="dta"/>
<circle cx="258.23" cy="87.86" r="0.65" class="dta"/>
<circle cx="258.85" cy="90.22" r="0.65" class="dta"/>
<circle cx="260.28" cy="92.17" r="0.65" class="dta"/>
<circle cx="261.97" cy="94.41" r="0.65" class="dta"/>
<circle cx="206" cy="86.8" r="0.6" class="dta"/>
<circle cx="208.39" cy="85.69" r="0.6" class="dta"/>
<circle cx="211.19" cy="84.7" r="0.6" class="dta"/>
<circle cx="213.25" cy="83.34" r="0.6" class="dta"/>
<circle cx="214.91" cy="81.64" r="0.6" class="dta"/>
<circle cx="216.99" cy="79.93" r="0.6" class="dta"/>
<circle cx="219.03" cy="77.78" r="0.6" class="dta"/>
<circle cx="221.41" cy="76.63" r="0.6" class="dta"/>
<circle cx="223.53" cy="74.82" r="0.6" class="dta"/>
<circle cx="244" cy="78.5" r="0.6" class="dta"/>
<circle cx="245.74" cy="80.62" r="0.6" class="dta"/>
<circle cx="247.63" cy="82.2" r="0.6" class="dta"/>
<circle cx="249.31" cy="83.7" r="0.6" class="dta"/>
<circle cx="251.87" cy="85.98" r="0.6" class="dta"/>
<circle cx="252.45" cy="88.74" r="0.6" class="dta"/>
<circle cx="253.17" cy="91.43" r="0.6" class="dta"/>
<circle cx="254.32" cy="94.04" r="0.6" class="dta"/>
<circle cx="168.8" cy="87.1" r="0.7" class="dta"/>
<circle cx="178.9" cy="88.3" r="0.7" class="dta"/>
<circle cx="184" cy="87.1" r="0.7" class="dta"/>
<circle cx="186.5" cy="88" r="0.7" class="dta"/>
<circle cx="190.5" cy="89.3" r="0.7" class="dta"/>
<circle cx="193.5" cy="90.8" r="0.7" class="dta"/>
<circle cx="218.2" cy="87.3" r="0.7" class="dta"/>
<circle cx="243.3" cy="42.6" r="0.7" class="dta"/>
<circle cx="251.2" cy="43" r="0.7" class="dta"/>
<circle cx="259.5" cy="45.3" r="0.7" class="dta"/>
<circle cx="268.7" cy="49.7" r="0.7" class="dta"/>
<circle cx="277.9" cy="56.6" r="0.7" class="dta"/>
<circle cx="284.8" cy="65" r="0.7" class="dta"/>
<circle cx="287.6" cy="74.6" r="0.7" class="dta"/>
<circle cx="285.2" cy="82.9" r="0.7" class="dta"/>
<circle cx="279.3" cy="88.9" r="0.7" class="dta"/>
<circle cx="273.3" cy="92.8" r="0.7" class="dta"/>
<circle cx="267.3" cy="94.9" r="0.7" class="dta"/>
<circle cx="262.5" cy="95.3" r="0.7" class="dta"/>
<circle cx="264.5" cy="99.5" r="0.7" class="dta"/>
<circle cx="266" cy="103.5" r="0.7" class="dta"/>
<circle cx="262.4" cy="104.8" r="0.7" class="dta"/>
<circle cx="258.6" cy="106.4" r="0.7" class="dta"/>
<circle cx="260.3" cy="105.6" r="0.7" class="dta"/>
<circle cx="258" cy="96.4" r="0.7" class="dta"/>
<rect x="36.4" y="250.3" width="27" height="24.1" class="dtb1"/>
<text x="39" y="258.19" class="dl" style="font-size:5.25px">X</text>
<text x="43.7" y="258.19" class="dv" style="font-size:5.25px">-0.0049</text>
<text x="39" y="264.39" class="dl" style="font-size:5.25px">Y</text>
<text x="43.7" y="264.39" class="dv" style="font-size:5.25px">1.6657</text>
<text x="39" y="270.89" class="dl" style="font-size:5.25px">Z</text>
<text x="43.7" y="270.89" class="dv" style="font-size:5.25px">0.00502</text>
<rect x="263.8" y="250.4" width="30.8" height="23.6" rx="1.5" class="dtb2"/>
<text x="266.2" y="257.89" class="dl" style="font-size:5.25px">X</text>
<text x="271.3" y="257.89" class="dv" style="font-size:5.25px">-0.00779</text>
<text x="266.2" y="264.39" class="dl" style="font-size:5.25px">Y</text>
<text x="271.3" y="264.39" class="dv" style="font-size:5.25px">1.6657</text>
<text x="266.2" y="271.09" class="dl" style="font-size:5.25px">Z</text>
<text x="271.3" y="271.09" class="dv" style="font-size:5.25px">0.008</text>
<rect x="35.1" y="432.7" width="29.2" height="24.2" rx="1.5" class="dtb2"/>
<text x="37.2" y="440.49" class="dl" style="font-size:5.25px">X</text>
<text x="42" y="440.49" class="dv" style="font-size:5.25px">-0.01156</text>
<text x="37.2" y="447.09" class="dl" style="font-size:5.25px">Y</text>
<text x="42" y="447.09" class="dv" style="font-size:5.25px">1.6657</text>
<text x="37.2" y="453.79" class="dl" style="font-size:5.25px">Z</text>
<text x="42" y="453.79" class="dv" style="font-size:5.25px">0.01194</text>
<rect x="273.8" y="435.9" width="26" height="20.6" class="dtb3"/>
<line x1="273.8" y1="435.9" x2="273.8" y2="456.5" class="dts"/>
<line x1="299.8" y1="435.9" x2="299.8" y2="456.5" class="dts"/>
<text x="276.3" y="442.96" class="dl" style="font-size:4.6px">X</text>
<text x="280.3" y="442.96" class="dv" style="font-size:4.6px">-0.00645</text>
<text x="276.3" y="448.46" class="dl" style="font-size:4.6px">Y</text>
<text x="280.3" y="448.46" class="dv" style="font-size:4.6px">1.6657</text>
<text x="276.3" y="454.16" class="dl" style="font-size:4.6px">Z</text>
<text x="280.3" y="454.16" class="dv" style="font-size:4.6px">0.00061</text>
<text x="222.65" y="177.9" class="sl" text-anchor="middle">(a)</text>
<text x="107" y="358.6" class="sl" text-anchor="middle">(b)</text>
<text x="336" y="358.6" class="sl" text-anchor="middle">(c)</text>
<text x="106.8" y="541.9" class="sl" text-anchor="middle">(d)</text>
<text x="336.2" y="542.1" class="sl" text-anchor="middle">(e)</text>
</svg></body></html>
